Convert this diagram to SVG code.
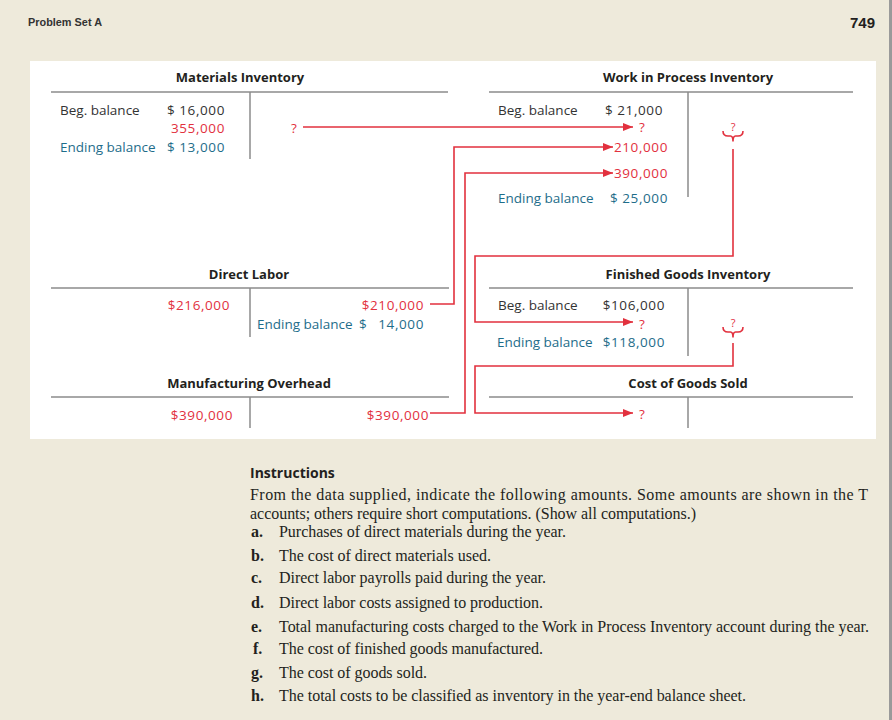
<svg xmlns="http://www.w3.org/2000/svg" width="892" height="720" viewBox="0 0 892 720">
<defs>
<style>
.t{font-family:"Open Sans","Liberation Sans",sans-serif;font-size:13.5px;}
.n{letter-spacing:0.6px;}
.h{font-family:"Open Sans","Liberation Sans",sans-serif;font-size:13px;font-weight:bold;fill:#231f20;text-anchor:middle;}
.k{fill:#333;}
.r{fill:#e2313e;}
.b{fill:#1e6d8a;}
.e{text-anchor:end;}
.q{font-family:"Open Sans","Liberation Sans",sans-serif;font-size:11px;fill:#e2313e;}
.g{stroke:#8c8c8c;stroke-width:1.5;fill:none;}
.c{stroke:#e2313e;stroke-width:1.6;fill:none;}
.s{font-family:"Liberation Serif",serif;font-size:16px;fill:#231f20;}
.sb{font-family:"Liberation Serif",serif;font-size:16px;font-weight:bold;fill:#231f20;}
</style>
<marker id="ah" viewBox="0 0 10 8" refX="10" refY="4" markerWidth="10" markerHeight="8" markerUnits="userSpaceOnUse" orient="auto">
<path d="M0,0 L10,4 L0,8 z" fill="#e2313e"/>
</marker>
</defs>
<rect x="0" y="0" width="892" height="720" fill="#eeeadb"/>
<rect x="889" y="0" width="3" height="720" fill="#9a9a9a"/>
<rect x="30" y="61" width="846" height="378" fill="#ffffff"/>
<text x="28" y="26" font-family="Liberation Sans,sans-serif" font-size="11.5" font-weight="bold" fill="#333" textLength="74" lengthAdjust="spacingAndGlyphs">Problem Set A</text>
<text x="875" y="27.5" font-family="Liberation Sans,sans-serif" font-size="15" font-weight="bold" fill="#231f20" text-anchor="end">749</text>

<g id="materials-inventory">
<text class="h" x="240" y="82">Materials Inventory</text>
<path class="g" d="M51,92 H448 M250,92 V159"/>
<text class="t k" x="60" y="114.5">Beg. balance</text>
<text class="t k e n" x="225" y="114.5">$ 16,000</text>
<text class="t r e n" x="225" y="132.5">355,000</text>
<text class="t b" x="60" y="151.5">Ending balance</text>
<text class="t b e n" x="225" y="151.5">$ 13,000</text>
<text class="t r" x="291" y="132.5" font-size="12">?</text>
</g>

<g id="work-in-process">
<text class="h" x="688" y="82">Work in Process Inventory</text>
<path class="g" d="M489,92 H853 M688,92 V197"/>
<text class="t k" x="498" y="114.5">Beg. balance</text>
<text class="t k e n" x="663" y="114.5">$ 21,000</text>
<text class="t r" x="639" y="132" font-size="12">?</text>
<text class="t r e n" x="668" y="151.5">210,000</text>
<text class="t r e n" x="668" y="177.5">390,000</text>
<text class="t b" x="498" y="202.5">Ending balance</text>
<text class="t b e n" x="668" y="202.5">$ 25,000</text>
<text class="q" x="733" y="131" text-anchor="middle">?</text>
</g>

<g id="direct-labor">
<text class="h" x="249" y="278.5">Direct Labor</text>
<path class="g" d="M51,288 H449 M250,288 V337"/>
<text class="t r e n" x="230" y="309.5">$216,000</text>
<text class="t r e n" x="424" y="309.5">$210,000</text>
<text class="t b" x="257" y="328.5">Ending balance</text>
<text class="t b" x="359" y="328.5">$</text>
<text class="t b e n" x="424" y="328.5">14,000</text>
</g>

<g id="finished-goods">
<text class="h" x="688" y="279">Finished Goods Inventory</text>
<path class="g" d="M489,288 H853 M688,288 V356"/>
<text class="t k" x="498" y="309.5">Beg. balance</text>
<text class="t k e n" x="665" y="309.5">$106,000</text>
<text class="t r" x="639" y="328.5" font-size="12">?</text>
<text class="t b" x="497" y="346.5">Ending balance</text>
<text class="t b e n" x="665" y="346.5">$118,000</text>
<text class="q" x="733" y="327" text-anchor="middle">?</text>
</g>

<g id="manufacturing-overhead">
<text class="h" x="249" y="388">Manufacturing Overhead</text>
<path class="g" d="M51,397 H449 M250,397 V428"/>
<text class="t r e n" x="233" y="419.5">$390,000</text>
<text class="t r e n" x="429" y="419.5">$390,000</text>
</g>

<g id="cost-of-goods-sold">
<text class="h" x="688" y="388">Cost of Goods Sold</text>
<path class="g" d="M489,397 H853 M688,397 V428"/>
<text class="t r" x="639" y="419" font-size="12">?</text>
</g>

<g id="connectors">
<path class="c" d="M303,127 H633" marker-end="url(#ah)"/>
<path class="c" d="M430,304 H454 V147 H613" marker-end="url(#ah)"/>
<path class="c" d="M430,413 H465 V173 H613" marker-end="url(#ah)"/>
<path class="c" d="M733,149 V256 H475 V322 H633" marker-end="url(#ah)"/>
<path class="c" d="M733,343 V366 H475 V413 H633" marker-end="url(#ah)"/>
<path class="c" d="M723,131 Q723,136 728,136 H730.5 Q733,136 733,141.5 Q733,136 735.5,136 H738 Q743,136 743,131"/>
<path class="c" d="M723,327 Q723,332 728,332 H730.5 Q733,332 733,337.5 Q733,332 735.5,332 H738 Q743,332 743,327"/>
</g>

<g id="instructions">
<text x="250" y="478" font-family="Open Sans,Liberation Sans,sans-serif" font-size="14" font-weight="bold" fill="#231f20">Instructions</text>
<text class="s" x="250" y="500" textLength="618" lengthAdjust="spacing">From the data supplied, indicate the following amounts. Some amounts are shown in the T</text>
<text class="s" x="250" y="519" textLength="446" lengthAdjust="spacing">accounts; others require short computations. (Show all computations.)</text>
<text class="sb" x="251" y="537">a.</text><text class="s" x="279" y="537" textLength="287" lengthAdjust="spacing">Purchases of direct materials during the year.</text>
<text class="sb" x="251" y="561">b.</text><text class="s" x="279" y="561" textLength="212" lengthAdjust="spacing">The cost of direct materials used.</text>
<text class="sb" x="251" y="583">c.</text><text class="s" x="279" y="583" textLength="267" lengthAdjust="spacing">Direct labor payrolls paid during the year.</text>
<text class="sb" x="251" y="608">d.</text><text class="s" x="279" y="608" textLength="264" lengthAdjust="spacing">Direct labor costs assigned to production.</text>
<text class="sb" x="251" y="632">e.</text><text class="s" x="279" y="632" textLength="590" lengthAdjust="spacing">Total manufacturing costs charged to the Work in Process Inventory account during the year.</text>
<text class="sb" x="253" y="654">f.</text><text class="s" x="279" y="654" textLength="264" lengthAdjust="spacing">The cost of finished goods manufactured.</text>
<text class="sb" x="251" y="678">g.</text><text class="s" x="279" y="678" textLength="148" lengthAdjust="spacing">The cost of goods sold.</text>
<text class="sb" x="251" y="701">h.</text><text class="s" x="279" y="701" textLength="467" lengthAdjust="spacing">The total costs to be classified as inventory in the year-end balance sheet.</text>
</g>
</svg>
